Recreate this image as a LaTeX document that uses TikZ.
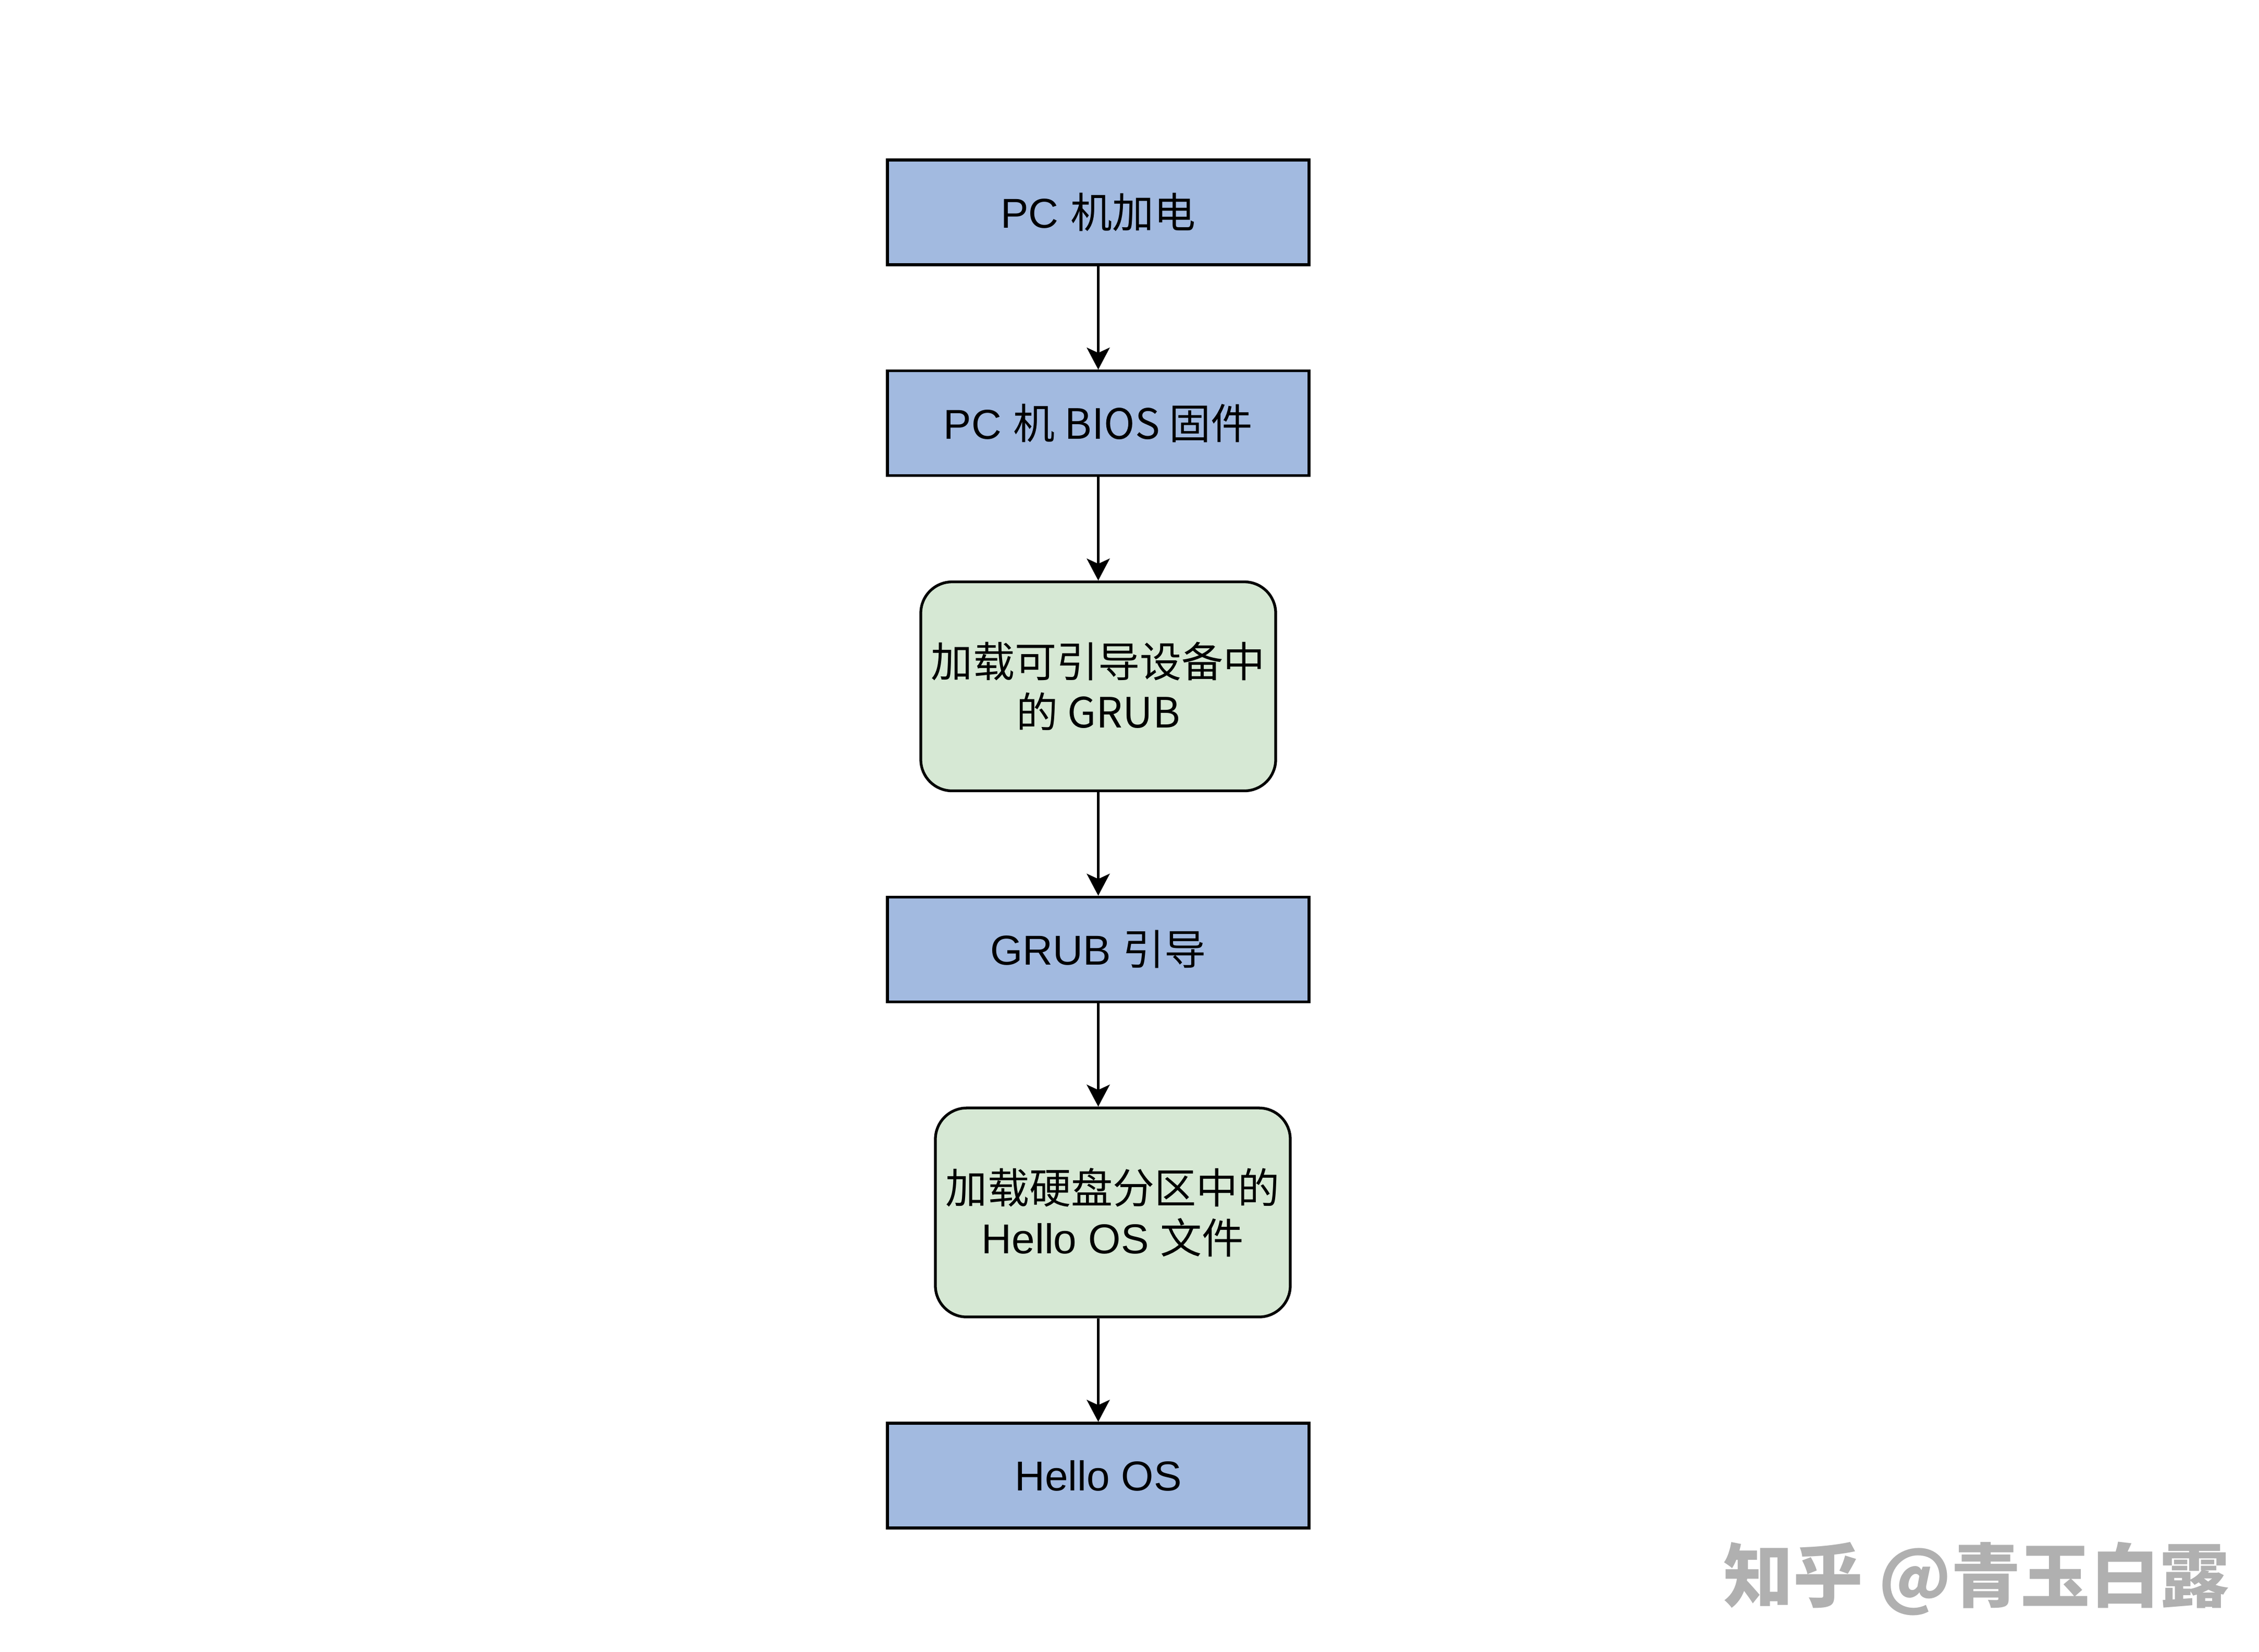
\documentclass[tikz,border=0pt]{standalone}
\usepackage{fontspec}
\setmainfont{Liberation Sans}
\newfontfamily\cjk{Noto Sans CJK SC}
\usetikzlibrary{positioning,shapes,arrows.meta}

\definecolor{stageblue}{HTML}{A2BAE0}
\definecolor{loadgreen}{HTML}{D6E8D4}
\definecolor{markgray}{HTML}{B0B0B0}

\tikzset{
	stage/.style={draw, fill=stageblue, minimum width=8.09cm, minimum height=2.01cm, inner sep=0pt},
	loader/.style={draw, fill=loadgreen, rounded corners=0.6cm, minimum width=6.81cm, minimum height=4.01cm, align=center, inner sep=0pt},
	watermark/.style={text=markgray, font=\cjk\bfseries\fontsize{38}{42}\selectfont}
}

\begin{document}
\begin{tikzpicture}[line width=1.5pt, >={Stealth[length=4.2mm,width=4.4mm,inset=1mm]}, node distance=1.985cm, font=\fontsize{22.8}{27.5}\selectfont]

		\useasboundingbox (0,0) rectangle (43.35,-31.70);

		%the boot chain
		\node[stage] (power) at (21.075,-4.075) {PC \cjk{机加电}};
		\node[stage, below=of power] (bios) {PC \cjk{机} BIOS \cjk{固件}};
		\node[loader, below=of bios] (grubload) {\cjk{加载可引导设备中}\\\cjk{的} GRUB};
		\node[stage, below=of grubload] (grub) {GRUB \cjk{引导}};
		\node[loader, below=of grub, xshift=0.28cm] (osload) {\cjk{加载硬盘分区中的}\\Hello OS \cjk{文件}};
		\node[stage, below=of osload, xshift=-0.28cm] (hello) {Hello OS};

		% the arrows between the steps
		\draw[->] (power) -- (bios);
		\draw[->] (bios) -- (grubload);
		\draw[->] (grubload) -- (grub);
		\draw[->] (grub.south) -- (grub.south |- osload.north);
		\draw[->] (osload.south -| hello.north) -- (hello);

		% the mark in the corner
		\node[watermark] (zhihu) at (37.93,-30.29) {知乎 @青玉白露};

	\end{tikzpicture}
\end{document}
